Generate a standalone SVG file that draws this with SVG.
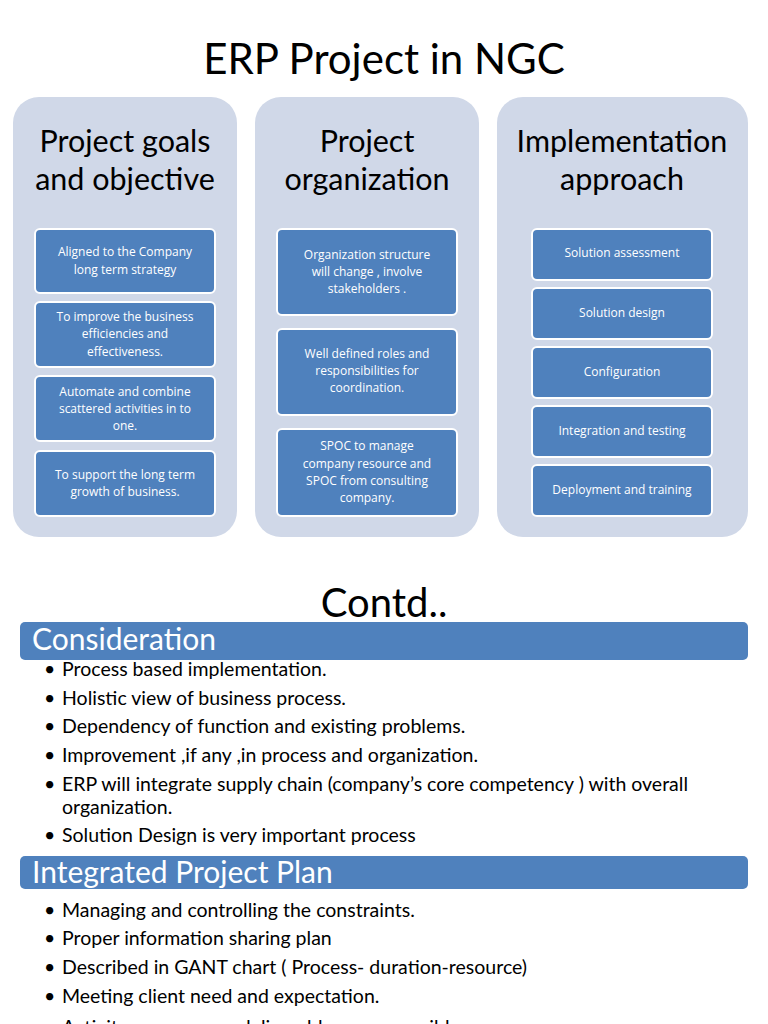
<svg xmlns="http://www.w3.org/2000/svg" width="768" height="1024" viewBox="0 0 768 1024">
<style>
text{font-family:Lato,"Open Sans",sans-serif}
.panel{fill:#d0d8e8}
.box{fill:#4f81bd;stroke:#fff;stroke-width:2}
.bt{fill:#fff;font-size:12px;text-anchor:middle;font-family:"Open Sans",sans-serif}
.ph{fill:#000;font-size:30.5px;text-anchor:middle}
.bar{fill:#4f81bd}
.bh{fill:#fff;font-size:30px}
.li{fill:#000;font-size:19.5px}
</style>
<rect width="768" height="1024" fill="#fff"/>
<text x="384" y="74" font-size="42" text-anchor="middle">ERP Project in NGC</text>
<g id="panel1">
<rect class="panel" x="13" y="97" width="224" height="440" rx="26"/>
<text class="ph" x="125" y="152">Project goals</text>
<text class="ph" x="125" y="190">and objective</text>
<g id="n1a"><rect class="box" x="35" y="229" width="180" height="64" rx="5"/><text class="bt" x="125" y="256">Aligned to  the Company</text><text class="bt" x="125" y="274">long term strategy</text></g>
<g id="n1b"><rect class="box" x="35" y="302" width="180" height="65" rx="5"/><text class="bt" x="125" y="321">To improve the business</text><text class="bt" x="125" y="338">efficiencies and</text><text class="bt" x="125" y="356">effectiveness.</text></g>
<g id="n1c"><rect class="box" x="35" y="376" width="180" height="65" rx="5"/><text class="bt" x="125" y="396">Automate and combine</text><text class="bt" x="125" y="413">scattered activities in to</text><text class="bt" x="125" y="430">one.</text></g>
<g id="n1d"><rect class="box" x="35" y="451" width="180" height="65" rx="5"/><text class="bt" x="125" y="479">To support the long term</text><text class="bt" x="125" y="496">growth of business.</text></g>
</g>
<g id="panel2">
<rect class="panel" x="255" y="97" width="224" height="440" rx="26"/>
<text class="ph" x="367" y="152">Project</text>
<text class="ph" x="367" y="190">organization</text>
<g id="n2a"><rect class="box" x="277" y="229" width="180" height="86" rx="5"/><text class="bt" x="367" y="259">Organization structure</text><text class="bt" x="367" y="276">will change , involve</text><text class="bt" x="367" y="293">stakeholders .</text></g>
<g id="n2b"><rect class="box" x="277" y="329" width="180" height="86" rx="5"/><text class="bt" x="367" y="358">Well defined roles and</text><text class="bt" x="367" y="375">responsibilities for</text><text class="bt" x="367" y="392">coordination.</text></g>
<g id="n2c"><rect class="box" x="277" y="429" width="180" height="87" rx="5"/><text class="bt" x="367" y="450">SPOC to manage</text><text class="bt" x="367" y="468">company resource and</text><text class="bt" x="367" y="485">SPOC from consulting</text><text class="bt" x="367" y="502">company.</text></g>
</g>
<g id="panel3">
<rect class="panel" x="497" y="97" width="251" height="440" rx="26"/>
<text class="ph" x="622" y="152">Implementation</text>
<text class="ph" x="622" y="190">approach</text>
<g id="n3a"><rect class="box" x="532" y="229" width="180" height="51" rx="5"/><text class="bt" x="622" y="257">Solution assessment</text></g>
<g id="n3b"><rect class="box" x="532" y="288" width="180" height="51" rx="5"/><text class="bt" x="622" y="317">Solution design</text></g>
<g id="n3c"><rect class="box" x="532" y="347" width="180" height="51" rx="5"/><text class="bt" x="622" y="376">Configuration</text></g>
<g id="n3d"><rect class="box" x="532" y="406" width="180" height="51" rx="5"/><text class="bt" x="622" y="435">Integration and testing</text></g>
<g id="n3e"><rect class="box" x="532" y="465" width="180" height="51" rx="5"/><text class="bt" x="622" y="494">Deployment and training</text></g>
</g>
<g id="connectors"></g>
<text x="384" y="617" font-size="40" text-anchor="middle">Contd..</text>
<g id="consideration">
<rect class="bar" x="20" y="622" width="728" height="38" rx="5"/>
<text class="bh" x="32" y="650">Consideration</text>
<g class="li">
<text x="44" y="676">•</text><text x="62" y="676">Process based implementation.</text>
<text x="44" y="705">•</text><text x="62" y="705">Holistic view of business process.</text>
<text x="44" y="733">•</text><text x="62" y="733">Dependency of function and existing problems.</text>
<text x="44" y="762">•</text><text x="62" y="762">Improvement ,if any ,in process and organization.</text>
<text x="44" y="791">•</text><text x="62" y="791">ERP will integrate supply chain (company’s core competency ) with overall</text>
<text x="62" y="814">organization.</text>
<text x="44" y="842">•</text><text x="62" y="842">Solution Design is very important process</text>
</g>
</g>
<g id="plan">
<rect class="bar" x="20" y="856" width="728" height="33" rx="5"/>
<text class="bh" x="32" y="883">Integrated Project Plan</text>
<g class="li">
<text x="44" y="917">•</text><text x="62" y="917">Managing and controlling the constraints.</text>
<text x="44" y="945">•</text><text x="62" y="945">Proper information sharing plan</text>
<text x="44" y="974">•</text><text x="62" y="974">Described in GANT chart ( Process- duration-resource)</text>
<text x="44" y="1003">•</text><text x="62" y="1003">Meeting client need and expectation.</text>
<text x="44" y="1034">•</text><text x="62" y="1034">Activity – purpose – deliverables – responsible</text>
</g>
</g>
</svg>
